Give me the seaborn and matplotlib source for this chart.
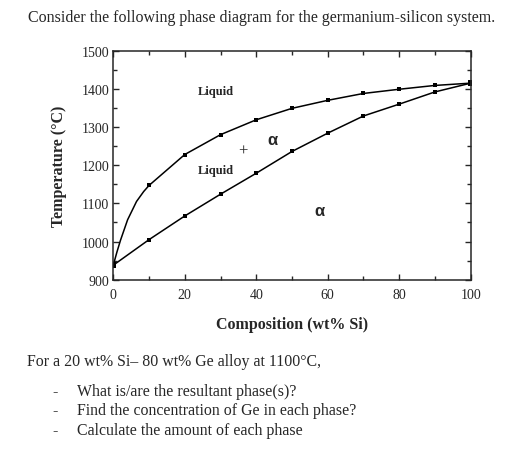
import numpy as np
import pandas as pd
import matplotlib
matplotlib.use('Agg')
import matplotlib.pyplot as plt
from matplotlib.ticker import MultipleLocator
import seaborn as sns

# values (wt% Si, deg C)
comp = [0, 10, 20, 30, 40, 50, 60, 70, 80, 90, 100]
liquidus_T = [938, 1147, 1228, 1280, 1319, 1349, 1370, 1388, 1399, 1409, 1415]
solidus_T = [938, 1005, 1067, 1124, 1179, 1236, 1284, 1329, 1360, 1392, 1415]
# extra unmarked points read along the steep start of the liquidus
liq_extra_comp = [1, 2, 4, 6.5, 8.5]
liq_extra_T = [972, 1003, 1057, 1105, 1131]

region_labels = ['Liquid', 'Liquid', '+', 'α', 'α']
region_x = [28.8, 28.8, 36.3, 44.6, 57.8]
region_T = [1394, 1188, 1237, 1268, 1080]

sns.set_style('ticks')
plt.rcParams['font.family'] = ['Liberation Serif', 'DejaVu Serif']

liq = pd.DataFrame({'comp': comp + liq_extra_comp, 'T': liquidus_T + liq_extra_T}).sort_values('comp')
sol = pd.DataFrame({'comp': comp, 'T': solidus_T})

fig = plt.figure(figsize=(5.22, 4.64), dpi=100)
ax = fig.add_axes([113.3 / 522, 1 - 280.7 / 464, 357.4 / 522, 229 / 464])

sns.lineplot(data=liq, x='comp', y='T', ax=ax, color='black', lw=1.1, sort=False)
sns.lineplot(data=sol, x='comp', y='T', ax=ax, color='black', lw=1.1)
sns.scatterplot(x=comp, y=liquidus_T, ax=ax, color='black', marker='s', s=9, linewidth=0)
sns.scatterplot(x=comp, y=solidus_T, ax=ax, color='black', marker='s', s=9, linewidth=0)
sns.scatterplot(x=[0, 100], y=[938, 1415], ax=ax, color='black', marker='s', s=18, linewidth=0)

ax.set_xlim(0, 100)
ax.set_ylim(900, 1500)
ax.xaxis.set_major_locator(MultipleLocator(20))
ax.xaxis.set_minor_locator(MultipleLocator(10))
ax.yaxis.set_major_locator(MultipleLocator(100))
ax.yaxis.set_minor_locator(MultipleLocator(50))
ax.tick_params(which='both', direction='in', top=True, right=True, labelsize=10, pad=3, width=1)
ax.tick_params(axis='x', which='both', pad=6)
ax.tick_params(which='major', length=4)
ax.tick_params(which='minor', length=3)
for s in ax.spines.values():
    s.set_linewidth(1.1)

ax.set_xlabel('Composition (wt% Si)', fontsize=11.5, fontweight='bold', labelpad=11)
ax.set_ylabel('Temperature (°C)', fontsize=11.5, fontweight='bold', labelpad=10)

for lbl, x, t in zip(region_labels, region_x, region_T):
    if lbl == 'α':
        ax.text(x, t, lbl, ha='center', va='center', fontsize=12, fontweight='bold',
                family=['Liberation Sans', 'DejaVu Sans'])
    elif lbl == '+':
        ax.text(x, t, lbl, ha='center', va='center', fontsize=12)
    else:
        ax.text(x, t, lbl, ha='center', va='center', fontsize=9, fontweight='bold')

fig.text(28 / 522, 1 - 18 / 464, 'Consider the following phase diagram for the germanium-silicon system.',
         ha='left', va='center', fontsize=11.5)
fig.text(27 / 522, 1 - 362 / 464, 'For a 20 wt% Si\u2013 80 wt% Ge alloy at 1100°C,',
         ha='left', va='center', fontsize=11.4)
questions = ['What is/are the resultant phase(s)?',
             'Find the concentration of Ge in each phase?',
             'Calculate the amount of each phase']
for q, y in zip(questions, [392, 411, 431.5]):
    fig.text(52 / 522, 1 - y / 464, '-', ha='left', va='center', fontsize=11.4)
    fig.text(77 / 522, 1 - y / 464, q, ha='left', va='center', fontsize=11.4)

fig.savefig('out.png', dpi=100)
